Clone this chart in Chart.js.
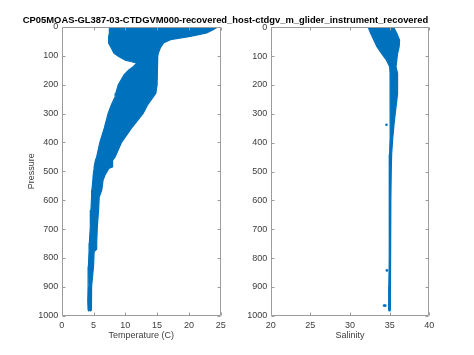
<!DOCTYPE html>
<html>
<head>
<meta charset="utf-8">
<script src="https://cdn.jsdelivr.net/npm/chart.js@4/dist/chart.umd.min.js"></script>
<style>
  html, body { margin: 0; padding: 0; background: #ffffff; }
  #wrap { position: relative; width: 474px; height: 355px; overflow: hidden; }
  .pane { position: absolute; left: 0; top: 0; width: 474px; height: 355px; }
</style>
</head>
<body>
<div id="wrap">
  <div class="pane"><canvas id="left"></canvas></div>
  <div class="pane"><canvas id="right"></canvas></div>
</div>
<script>
// ---------------- data ----------------
const chartTitle = 'CP05MOAS-GL387-03-CTDGVM000-recovered_host-ctdgv_m_glider_instrument_recovered';

// Temperature cloud envelope: pressure levels with min / max temperature
const pressureT = [0,10,21,33,44,56,73,91,102,115,125,137,150,166,200,230,242,270,300,350,400,450,462,485,490,514,531,565,589,634,692,749,770,778,830,899,950,980,985];
const tempMin   = [7.5,7.5,7.5,7.4,7.35,7.4,7.8,8.2,8.9,10.0,11.8,11.3,10.5,9.8,8.9,8.5,8.4,7.8,7.3,6.7,6.0,5.5,5.3,5.1,5.1,4.95,4.9,4.75,4.7,4.6,4.5,4.35,4.3,4.3,4.2,4.15,4.1,4.15,4.3];
const tempMax   = [24.5,23.8,22.8,20.2,17.1,16.0,15.5,15.2,15.1,15.0,15.0,15.0,15.0,15.0,15.0,14.8,14.4,13.5,12.8,11.0,9.4,8.4,8.0,8.0,7.4,6.8,6.5,6.3,5.9,5.8,5.6,5.5,5.5,5.1,5.0,4.7,4.7,4.65,4.5];

// Salinity cloud envelope
const pressureS = [0,21,44,67,91,114,137,160,230,277,323,381,440,498,600,700,800,900,950,980,985];
const salMin    = [32.3,32.6,33.0,33.4,34.0,34.6,35.0,35.05,35.1,35.05,35.05,35.05,35.0,34.95,34.95,34.95,34.95,34.9,34.85,34.9,34.95];
const salMax    = [35.5,35.9,36.25,36.2,36.0,35.9,35.8,36.0,36.0,35.8,35.6,35.4,35.25,35.2,35.15,35.1,35.1,35.1,35.1,35.05,35.0];

// Isolated salinity points
const salOutlier  = [34.6, 34.65, 34.3, 34.45];
const presOutlier = [338, 843, 965, 965];

// Axis ranges / ticks
const tempTicks = [0, 25, 5];
const salTicks = [20, 40, 5];
const presTicks = [0, 1000, 100];

// ---------------- styling ----------------
const BLUE = '#0072BD';
const AXIS = '#9c9c9c';
const TICKTXT = '#3c3c3c';
const FONT = "'Liberation Sans', Arial, Helvetica, sans-serif";
Chart.defaults.font.family = FONT;

const pts = (xs, ys) => xs.map((v, i) => ({ x: v, y: ys[i] }));

const boxPlugin = {
  id: 'matlabBox',
  afterDatasetsDraw(chart) {
    const { ctx, chartArea: a, scales } = chart;
    const L = Math.round(a.left) + 0.5, R = Math.round(a.right) - 0.5;
    const T = Math.round(a.top) + 0.5, B = Math.round(a.bottom) - 0.5;
    ctx.save();
    ctx.strokeStyle = AXIS;
    ctx.lineWidth = 1;
    ctx.beginPath();
    ctx.rect(L, T, R - L, B - T);
    const tl = 3;
    scales.x.ticks.forEach(t => {
      const px = Math.round(scales.x.getPixelForValue(t.value)) + 0.5;
      ctx.moveTo(px, B); ctx.lineTo(px, B - tl);
      ctx.moveTo(px, T); ctx.lineTo(px, T + tl);
    });
    scales.y.ticks.forEach(t => {
      const py = Math.round(scales.y.getPixelForValue(t.value)) + 0.5;
      ctx.moveTo(L, py); ctx.lineTo(L + tl, py);
      ctx.moveTo(R, py); ctx.lineTo(R - tl, py);
    });
    ctx.stroke();
    ctx.restore();
  }
};

function envelopeDatasets(minArr, maxArr, pres) {
  return [
    { data: pts(minArr, pres), borderColor: BLUE, backgroundColor: BLUE, borderWidth: 1.2,
      pointRadius: 0, fill: false, tension: 0 },
    { data: pts(maxArr, pres), borderColor: BLUE, backgroundColor: BLUE, borderWidth: 1.2,
      pointRadius: 0, fill: '-1', tension: 0 }
  ];
}

const plain = v => String(v);

function baseOptions(xr, xTitle, yWidth, yTitle, padding, titleOn, extraScales) {
  const scales = {
    x: {
      type: 'linear', position: 'bottom', min: xr[0], max: xr[1],
      grid: { display: false, drawTicks: false, tickLength: 0 }, border: { display: false },
      ticks: { stepSize: xr[2], color: TICKTXT, font: { size: 9 }, padding: 4, maxRotation: 0, callback: plain },
      title: { display: true, text: xTitle, color: TICKTXT, font: { size: 9 }, padding: { top: 0, bottom: 13.6 } },
      afterFit(s) { s.height = 39.3; }
    },
    y: {
      type: 'linear', position: 'left', min: presTicks[0], max: presTicks[1], reverse: true,
      grid: { display: false, drawTicks: false, tickLength: 0 }, border: { display: false },
      ticks: { stepSize: presTicks[2], color: TICKTXT, font: { size: 9 }, padding: 3.5, callback: plain },
      title: { display: !!yTitle, text: yTitle || '', color: TICKTXT, font: { size: 9 }, padding: { top: 26, bottom: 0 } },
      afterFit(s) { s.width = yWidth; }
    }
  };
  Object.assign(scales, extraScales || {});
  return {
    indexAxis: 'y',
    responsive: true, maintainAspectRatio: false, animation: false, devicePixelRatio: 1,
    layout: { padding },
    plugins: {
      legend: { display: false }, tooltip: { enabled: false },
      title: {
        display: titleOn, text: chartTitle, color: '#000000',
        font: { size: 9.4, weight: 'bold', family: FONT }, padding: { top: 14.6, bottom: 1 }
      },
      filler: { propagate: false }
    },
    scales
  };
}

new Chart(document.getElementById('left'), {
  type: 'line',
  data: { datasets: envelopeDatasets(tempMin, tempMax, pressureT) },
  options: baseOptions(tempTicks, 'Temperature (C)', 61.7, 'Pressure',
    { left: 0, right: 23, top: 0, bottom: 0 }, true,
    { spacer: { type: 'linear', position: 'right', display: true,
                grid: { display: false, drawTicks: false }, border: { display: false }, ticks: { display: false },
                afterFit(s) { s.width = 230.3; } } }),
  plugins: [boxPlugin]
});

const rightSets = envelopeDatasets(salMin, salMax, pressureS);
rightSets.push({ type: 'line', data: pts(salOutlier, presOutlier), showLine: false,
  pointRadius: 1.3, pointBackgroundColor: BLUE, pointBorderWidth: 0, borderColor: BLUE, fill: false });

new Chart(document.getElementById('right'), {
  type: 'line',
  data: { datasets: rightSets },
  options: baseOptions(salTicks, 'Salinity', 270.7, null,
    { left: 0, right: 44.7, top: 27.3, bottom: 0 }, false),
  plugins: [boxPlugin]
});
</script>
</body>
</html>
